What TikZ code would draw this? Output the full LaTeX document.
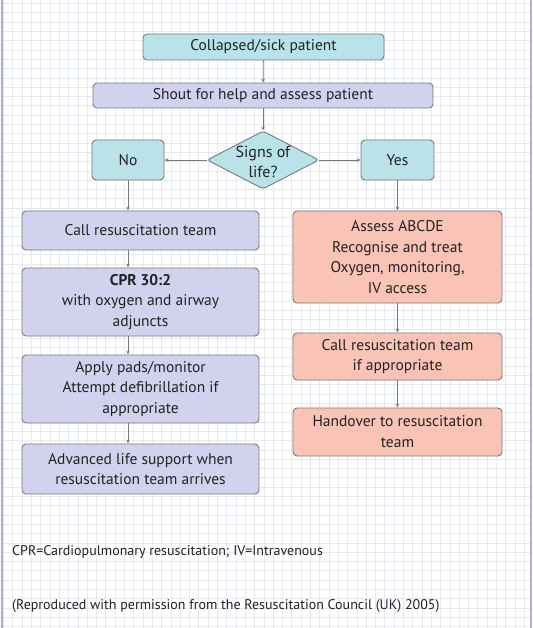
\documentclass[tikz,border=0pt]{standalone}
\usepackage{fontspec}
\setmainfont{PT Sans}
\usetikzlibrary{shapes.geometric,arrows.meta}

\definecolor{boxcyan}{HTML}{B9E3E8}
\definecolor{boxlav}{HTML}{D2D2EE}
\definecolor{boxsalmon}{HTML}{F9C3B6}
\definecolor{edgegray}{HTML}{7A7A7A}
\definecolor{gridblue}{HTML}{E4E9F2}
\definecolor{framelav}{HTML}{AEAED8}
\definecolor{inkdark}{HTML}{222222}

\tikzset{
  stepbox/.style={draw=edgegray, line width=0.9pt, rounded corners=4pt, align=center,
    inner sep=0pt, text=inkdark, font=\fontsize{15.5}{20.8}\selectfont},
  cyanbox/.style={stepbox, fill=boxcyan},
  lavbox/.style={stepbox, fill=boxlav},
  salbox/.style={stepbox, fill=boxsalmon},
  decision/.style={diamond, draw=edgegray, line width=0.9pt, fill=boxcyan, rounded corners=3pt,
    inner sep=0pt, minimum width=112pt, minimum height=58pt},
  arr/.style={draw=edgegray, line width=0.8pt, -{Stealth[length=4pt,width=3.5pt]}},
  note/.style={anchor=west, text=inkdark, inner sep=0pt, font=\fontsize{14}{17}\selectfont}
}

\begin{document}
\begin{tikzpicture}[x=1pt,y=-1pt]
    \useasboundingbox (0,0) rectangle (532,628);
    % Paper background
    \fill[white] (0,0) rectangle (532,628);
    \foreach \gx in {3.5,12.8,...,532} \draw[gridblue, line width=0.7pt] (\gx,0) -- (\gx,628);
    \foreach \gy in {3.5,12.8,...,628} \draw[gridblue, line width=0.7pt] (0,\gy) -- (532,\gy);
    \draw[framelav, line width=2pt] (1.5,0) -- (1.5,628);
    \draw[framelav, line width=2pt] (530.5,0) -- (530.5,628);

    % Top of the chart
    \node[cyanbox, minimum width=241pt, minimum height=26pt] (start) at (263.5,47) {Collapsed/sick patient};
    \node[lavbox, minimum width=340pt, minimum height=25pt] (shout) at (263,95.5) {Shout for help and assess patient};
    \node[decision] (life) at (263,160) {};
    \node[stepbox, draw=none, fill=none, font=\fontsize{16}{20.5}\selectfont] (lifelbl) at (263,162) {Signs of\\life?};
    \node[cyanbox, minimum width=72pt, minimum height=40pt] (no) at (128,160) {No};
    \node[cyanbox, minimum width=73pt, minimum height=40pt] (yes) at (397.5,160) {Yes};

    % No branch
    \node[lavbox, minimum width=237pt, minimum height=39pt] (callL) at (140.5,230.5) {Call resuscitation team};
    \node[lavbox, minimum width=237pt, minimum height=68pt] (cpr) at (140.5,302) {\textbf{CPR 30:2}\\with oxygen and airway\\adjuncts};
    \node[lavbox, minimum width=237pt, minimum height=68pt] (pads) at (140.5,389) {Apply pads/monitor\\Attempt defibrillation if\\appropriate};
    \node[lavbox, minimum width=237pt, minimum height=50pt] (als) at (140.5,469) {Advanced life support when\\resuscitation team arrives};

    % Yes branch
    \node[salbox, minimum width=209pt, minimum height=92pt] (abcde) at (397.5,257) {Assess ABCDE\\Recognise and treat\\Oxygen, monitoring,\\IV access};
    \node[salbox, minimum width=209pt, minimum height=47pt] (callR) at (397.5,356.5) {Call resuscitation team\\if appropriate};
    \node[salbox, minimum width=209pt, minimum height=48pt] (handover) at (397.5,432) {Handover to resuscitation\\team};

    % Connectors
    \draw[arr] (start) -- (shout);
    \draw[arr] (shout) -- (life);
    \draw[arr] (life.west) -- (no.east);
    \draw[arr] (life.east) -- (yes.west);
    \draw[arr] (no) -- (no |- callL.north);
    \draw[arr] (callL.south -| no) -- (cpr.north -| no);
    \draw[arr] (cpr.south -| no) -- (pads.north -| no);
    \draw[arr] (pads.south -| no) -- (als.north -| no);
    \draw[arr] (yes) -- (abcde);
    \draw[arr] (abcde) -- (callR);
    \draw[arr] (callR) -- (handover);

    % Notes
    \node[note] (abbr) at (12,552) {CPR=Cardiopulmonary resuscitation; IV=Intravenous};
    \node[note] (source) at (12,606) {(Reproduced with permission from the Resuscitation Council (UK) 2005)};
\end{tikzpicture}
\end{document}
